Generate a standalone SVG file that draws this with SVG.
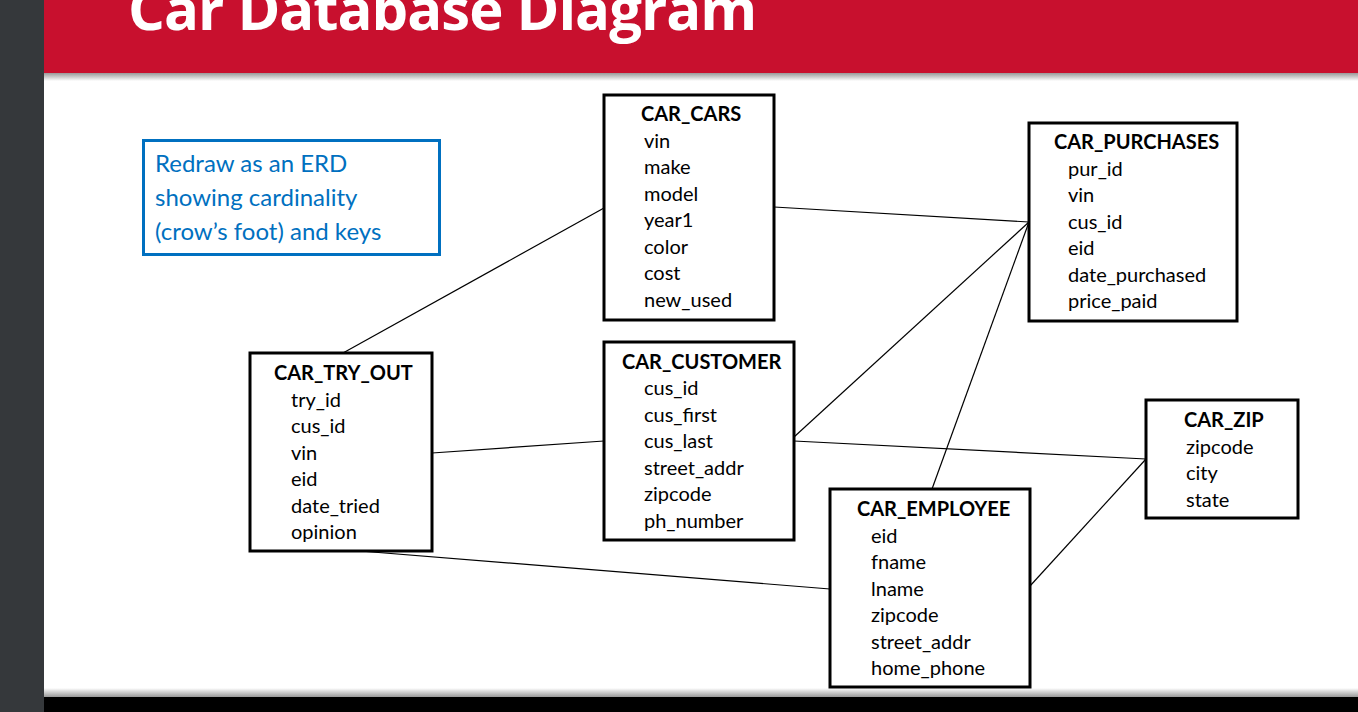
<svg xmlns="http://www.w3.org/2000/svg" width="1358" height="712" viewBox="0 0 1358 712">
<defs><linearGradient id="sh" x1="0" y1="0" x2="0" y2="1"><stop offset="0" stop-color="#999"/><stop offset="1" stop-color="#fff"/></linearGradient></defs>
<style>
.box{fill:#fff;stroke:#000;stroke-width:3}
.t{font-family:Lato,"Liberation Sans",sans-serif;font-size:20px;fill:#000}
.h{font-weight:bold}
.c line{stroke:#000;stroke-width:1.2}
</style>
<rect width="1358" height="712" fill="#fff"/>
<rect x="0" y="0" width="44" height="712" fill="#35383b"/>
<rect x="44" y="0" width="1314" height="73" fill="#c8102e"/>
<rect x="44" y="73" width="1314" height="8" fill="url(#sh)"/>
<rect x="44" y="688" width="1314" height="9" fill="url(#sh)" transform="rotate(180 701 692.5)"/>
<rect x="44" y="697" width="1314" height="15" fill="#000"/>
<text x="128" y="30" font-family="'Open Sans',sans-serif" font-weight="bold" font-size="58" fill="#fff" letter-spacing="-1">Car Database Diagram</text>
<g class="c">
<line x1="604" y1="208" x2="343" y2="353"/>
<line x1="774" y1="207" x2="1029" y2="222"/>
<line x1="1029" y1="222" x2="794" y2="437"/>
<line x1="1029" y1="222" x2="932" y2="489"/>
<line x1="432" y1="453" x2="604" y2="441"/>
<line x1="794" y1="441" x2="1146" y2="459"/>
<line x1="1146" y1="459" x2="1030" y2="586"/>
<line x1="360" y1="551" x2="830" y2="589"/>
</g>
<g id="note"><rect x="143.5" y="140.5" width="296" height="114" fill="#fff" stroke="#0070c0" stroke-width="3"/>
<text font-family="Lato,'Liberation Sans',sans-serif" font-size="24" fill="#0070c0"><tspan x="155" y="172">Redraw as an ERD</tspan><tspan x="155" y="206">showing cardinality</tspan><tspan x="155" y="240">(crow’s foot) and keys</tspan></text></g>
<g id="car_cars"><rect class="box" x="604" y="95" width="170" height="225"/>
<text class="t"><tspan class="h" x="641" y="121">CAR_CARS</tspan><tspan x="644" y="148">vin</tspan><tspan x="644" y="174">make</tspan><tspan x="644" y="201">model</tspan><tspan x="644" y="227">year1</tspan><tspan x="644" y="254">color</tspan><tspan x="644" y="280">cost</tspan><tspan x="644" y="307">new_used</tspan></text></g>
<g id="car_purchases"><rect class="box" x="1029" y="123" width="208" height="198"/>
<text class="t"><tspan class="h" x="1054" y="149">CAR_PURCHASES</tspan><tspan x="1068" y="176">pur_id</tspan><tspan x="1068" y="202">vin</tspan><tspan x="1068" y="229">cus_id</tspan><tspan x="1068" y="255">eid</tspan><tspan x="1068" y="282">date_purchased</tspan><tspan x="1068" y="308">price_paid</tspan></text></g>
<g id="car_try_out"><rect class="box" x="250" y="353" width="182" height="198"/>
<text class="t"><tspan class="h" x="274" y="380">CAR_TRY_OUT</tspan><tspan x="291" y="407">try_id</tspan><tspan x="291" y="433">cus_id</tspan><tspan x="291" y="460">vin</tspan><tspan x="291" y="486">eid</tspan><tspan x="291" y="513">date_tried</tspan><tspan x="291" y="539">opinion</tspan></text></g>
<g id="car_customer"><rect class="box" x="604" y="342" width="190" height="198"/>
<text class="t"><tspan class="h" x="622" y="369">CAR_CUSTOMER</tspan><tspan x="644" y="395">cus_id</tspan><tspan x="644" y="422">cus_first</tspan><tspan x="644" y="448">cus_last</tspan><tspan x="644" y="475">street_addr</tspan><tspan x="644" y="501">zipcode</tspan><tspan x="644" y="528">ph_number</tspan></text></g>
<g id="car_zip"><rect class="box" x="1146" y="400" width="152" height="118"/>
<text class="t"><tspan class="h" x="1184" y="427">CAR_ZIP</tspan><tspan x="1186" y="454">zipcode</tspan><tspan x="1186" y="480">city</tspan><tspan x="1186" y="507">state</tspan></text></g>
<g id="car_employee"><rect class="box" x="830" y="489" width="200" height="198"/>
<text class="t"><tspan class="h" x="857" y="516">CAR_EMPLOYEE</tspan><tspan x="871" y="543">eid</tspan><tspan x="871" y="569">fname</tspan><tspan x="871" y="596">lname</tspan><tspan x="871" y="622">zipcode</tspan><tspan x="871" y="649">street_addr</tspan><tspan x="871" y="675">home_phone</tspan></text></g>
</svg>
